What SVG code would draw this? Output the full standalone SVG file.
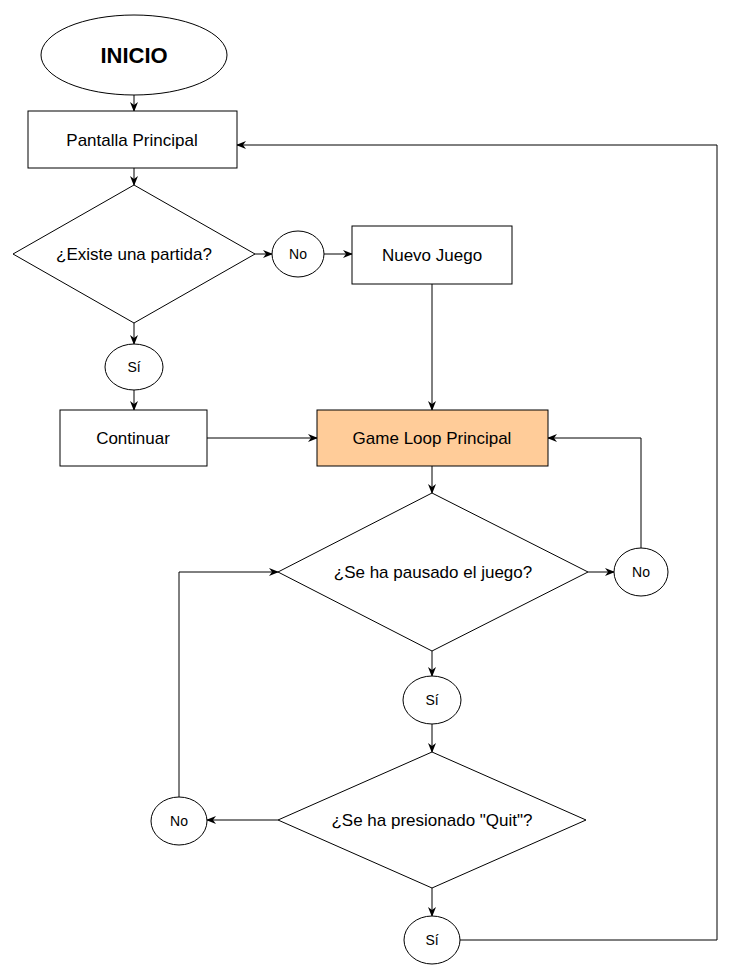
<svg xmlns="http://www.w3.org/2000/svg" width="732" height="979" viewBox="0 0 732 979">
<defs>
<marker id="a" markerWidth="10" markerHeight="8" refX="9" refY="4" orient="auto" markerUnits="userSpaceOnUse"><path d="M0,0 L10,4 L0,8 L3,4 Z" fill="#000"/></marker>
<style>
.s{fill:#fff;stroke:#000;stroke-width:1}
.t{font-family:"Liberation Sans",Arial,sans-serif;font-size:17px;text-anchor:middle;dominant-baseline:central;fill:#000}
.m{font-family:"Liberation Sans",Arial,sans-serif;font-size:14px;text-anchor:middle;dominant-baseline:central;fill:#000}
.c{fill:none;stroke:#000;stroke-width:1;marker-end:url(#a)}
</style>
</defs>
<rect width="732" height="979" fill="#fff"/>
<g id="connectors">
<path class="c" d="M134,95 V111"/>
<path class="c" d="M134,168 V185"/>
<path class="c" d="M255,254 H272"/>
<path class="c" d="M324,254 H352"/>
<path class="c" d="M134,323 V344"/>
<path class="c" d="M134,390 V410"/>
<path class="c" d="M207,438 H317"/>
<path class="c" d="M432,284 V410"/>
<path class="c" d="M432,466 V493"/>
<path class="c" d="M588,572 H614"/>
<path class="c" d="M641,548 V438 H548"/>
<path class="c" d="M432,651 V676"/>
<path class="c" d="M432,724 V752"/>
<path class="c" d="M278,820 H207"/>
<path class="c" d="M179,797 V572 H278"/>
<path class="c" d="M432,888 V916"/>
<path class="c" d="M460,940 H717 V145 H237"/>
</g>
<g id="inicio"><ellipse class="s" cx="134" cy="55" rx="93" ry="40"/><text class="t" x="134" y="55" style="font-size:22px;font-weight:bold">INICIO</text></g>
<g id="pantalla"><rect class="s" x="28" y="111" width="209" height="57"/><text class="t" x="132" y="140">Pantalla Principal</text></g>
<g id="existe"><path class="s" d="M134,185 L255,254 L134,323 L13,254 Z"/><text class="t" x="134" y="254">¿Existe una partida?</text></g>
<g id="no1"><ellipse class="s" cx="298" cy="254" rx="26" ry="23"/><text class="m" x="298" y="254">No</text></g>
<g id="nuevo"><rect class="s" x="352" y="226" width="160" height="58"/><text class="t" x="432" y="255">Nuevo Juego</text></g>
<g id="si1"><ellipse class="s" cx="134" cy="367" rx="29" ry="23"/><text class="m" x="134" y="367">Sí</text></g>
<g id="continuar"><rect class="s" x="60" y="410" width="147" height="56"/><text class="t" x="133" y="438">Continuar</text></g>
<g id="gameloop"><rect x="317" y="410" width="231" height="56" fill="#ffcc99" stroke="#000"/><text class="t" x="432" y="438">Game Loop Principal</text></g>
<g id="pausa"><path class="s" d="M432,493 L588,572 L432,651 L278,572 Z"/><text class="t" x="433" y="572">¿Se ha pausado el juego?</text></g>
<g id="no2"><ellipse class="s" cx="641" cy="572" rx="27" ry="24"/><text class="m" x="641" y="572">No</text></g>
<g id="si2"><ellipse class="s" cx="432" cy="700" rx="29" ry="24"/><text class="m" x="432" y="700">Sí</text></g>
<g id="quit"><path class="s" d="M432,752 L586,820 L432,888 L278,820 Z"/><text class="t" x="432" y="820">¿Se ha presionado "Quit"?</text></g>
<g id="no3"><ellipse class="s" cx="179" cy="821" rx="28" ry="24"/><text class="m" x="179" y="821">No</text></g>
<g id="si3"><ellipse class="s" cx="432" cy="940" rx="28" ry="24"/><text class="m" x="432" y="940">Sí</text></g>
</svg>
